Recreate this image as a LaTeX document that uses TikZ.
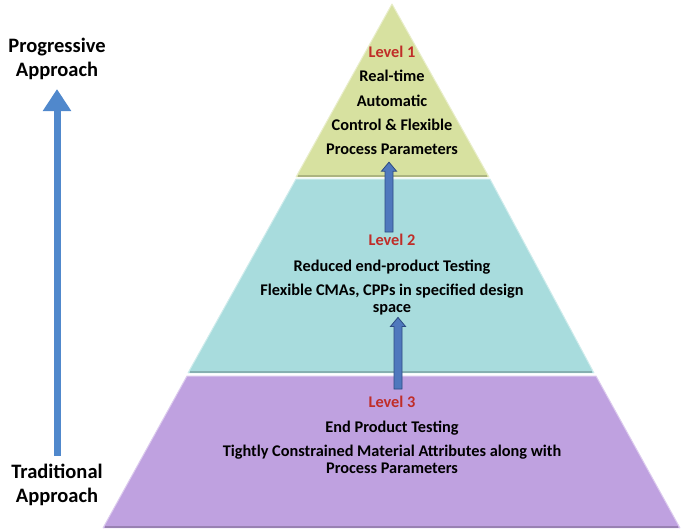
\documentclass[tikz,border=0pt]{standalone}
\usepackage{fontspec}
\setmainfont{Carlito}
\usetikzlibrary{arrows.meta,calc}

\definecolor{lvyellow}{RGB}{215,225,160}
\definecolor{lvteal}{RGB}{168,220,221}
\definecolor{lvpurple}{RGB}{191,161,224}
\definecolor{lvred}{RGB}{192,45,40}
\definecolor{arrowblue}{RGB}{79,120,189}
\definecolor{arrowedge}{RGB}{45,75,130}
\definecolor{bigblue}{RGB}{80,136,204}

% one layer of the pyramid: colour, top left, top right, bottom right, bottom left
\newcommand{\Layer}[5]{
    \fill[#1] (#2) -- (#3) -- (#4) -- (#5) -- cycle;
    \draw[#1!55!white, line width=1pt, line join=round] (#5) -- (#2) -- (#3) -- (#4);
    \draw[#1!80!black, line width=1.5pt] ($(#4)+(-2pt,1pt)$) -- ($(#5)+(2pt,1pt)$);
}

% outlined block arrow going up from #1 to #2
\newcommand{\blockarrow}[2]{
    \draw[smallarrow] let \p1=(#1), \p2=(#2) in
    (\x1-4pt,\y1) -- (\x1-4pt,\y2-9pt) -- (\x1-7.5pt,\y2-9pt) -- (\x1,\y2)
    -- (\x1+7.5pt,\y2-9pt) -- (\x1+4pt,\y2-9pt) -- (\x1+4pt,\y1) -- cycle;
}

\begin{document}
\begin{tikzpicture}[x=1pt, y=-1pt,
    lvtext/.style={font=\fontsize{16.3}{17}\selectfont\bfseries, align=center, inner sep=0pt, anchor=north},
    side/.style={font=\fontsize{20.5}{24}\selectfont\bfseries, align=center, inner sep=0pt},
    smallarrow/.style={fill=arrowblue, draw=arrowedge, line width=0.8pt},
    bigarrow/.style={draw=bigblue, line width=7pt, -{Triangle[width=27pt, length=22pt]}}]
    \useasboundingbox (0,0) rectangle (685,531);

    % pyramid
    \Layer{lvyellow}{392,4}{392,4}{489,177}{296,177}
    \Layer{lvteal}{296,179}{490,179}{594,373}{188,373}
    \Layer{lvpurple}{187,376}{596,376}{680,528}{103,528}

    % level texts
    \node[lvtext] (lvone) at (392,46) {\textcolor{lvred}{Level 1}\\[7.3pt] Real-time\\[7.3pt] Automatic\\[7.3pt]
        Control \& Flexible\\[7.3pt] Process Parameters};
    \node[lvtext] (lvtwo) at (392,234) {\textcolor{lvred}{Level 2}\\[9pt] Reduced end-product Testing\\[7pt]
        Flexible CMAs, CPPs in specified design\\ space};
    \node[lvtext] (lvthree) at (392,396) {\textcolor{lvred}{Level 3}\\[8pt] End Product Testing\\[7pt]
        Tightly Constrained Material Attributes along with\\ Process Parameters};

    % side labels
    \node[side] (prog) at (57,59) {Progressive\\Approach};
    \node[side] (trad) at (57,485) {Traditional\\Approach};

    % arrows
    \draw[bigarrow] ([yshift=8pt]trad.north) -- ([yshift=-9pt]prog.south);
    \blockarrow{[xshift=-3pt,yshift=2pt]lvtwo.north}{[xshift=-3pt,yshift=-7pt]lvone.south}
    \blockarrow{[xshift=6pt,yshift=7pt]lvthree.north}{[xshift=6pt,yshift=-2pt]lvtwo.south}
\end{tikzpicture}
\end{document}
